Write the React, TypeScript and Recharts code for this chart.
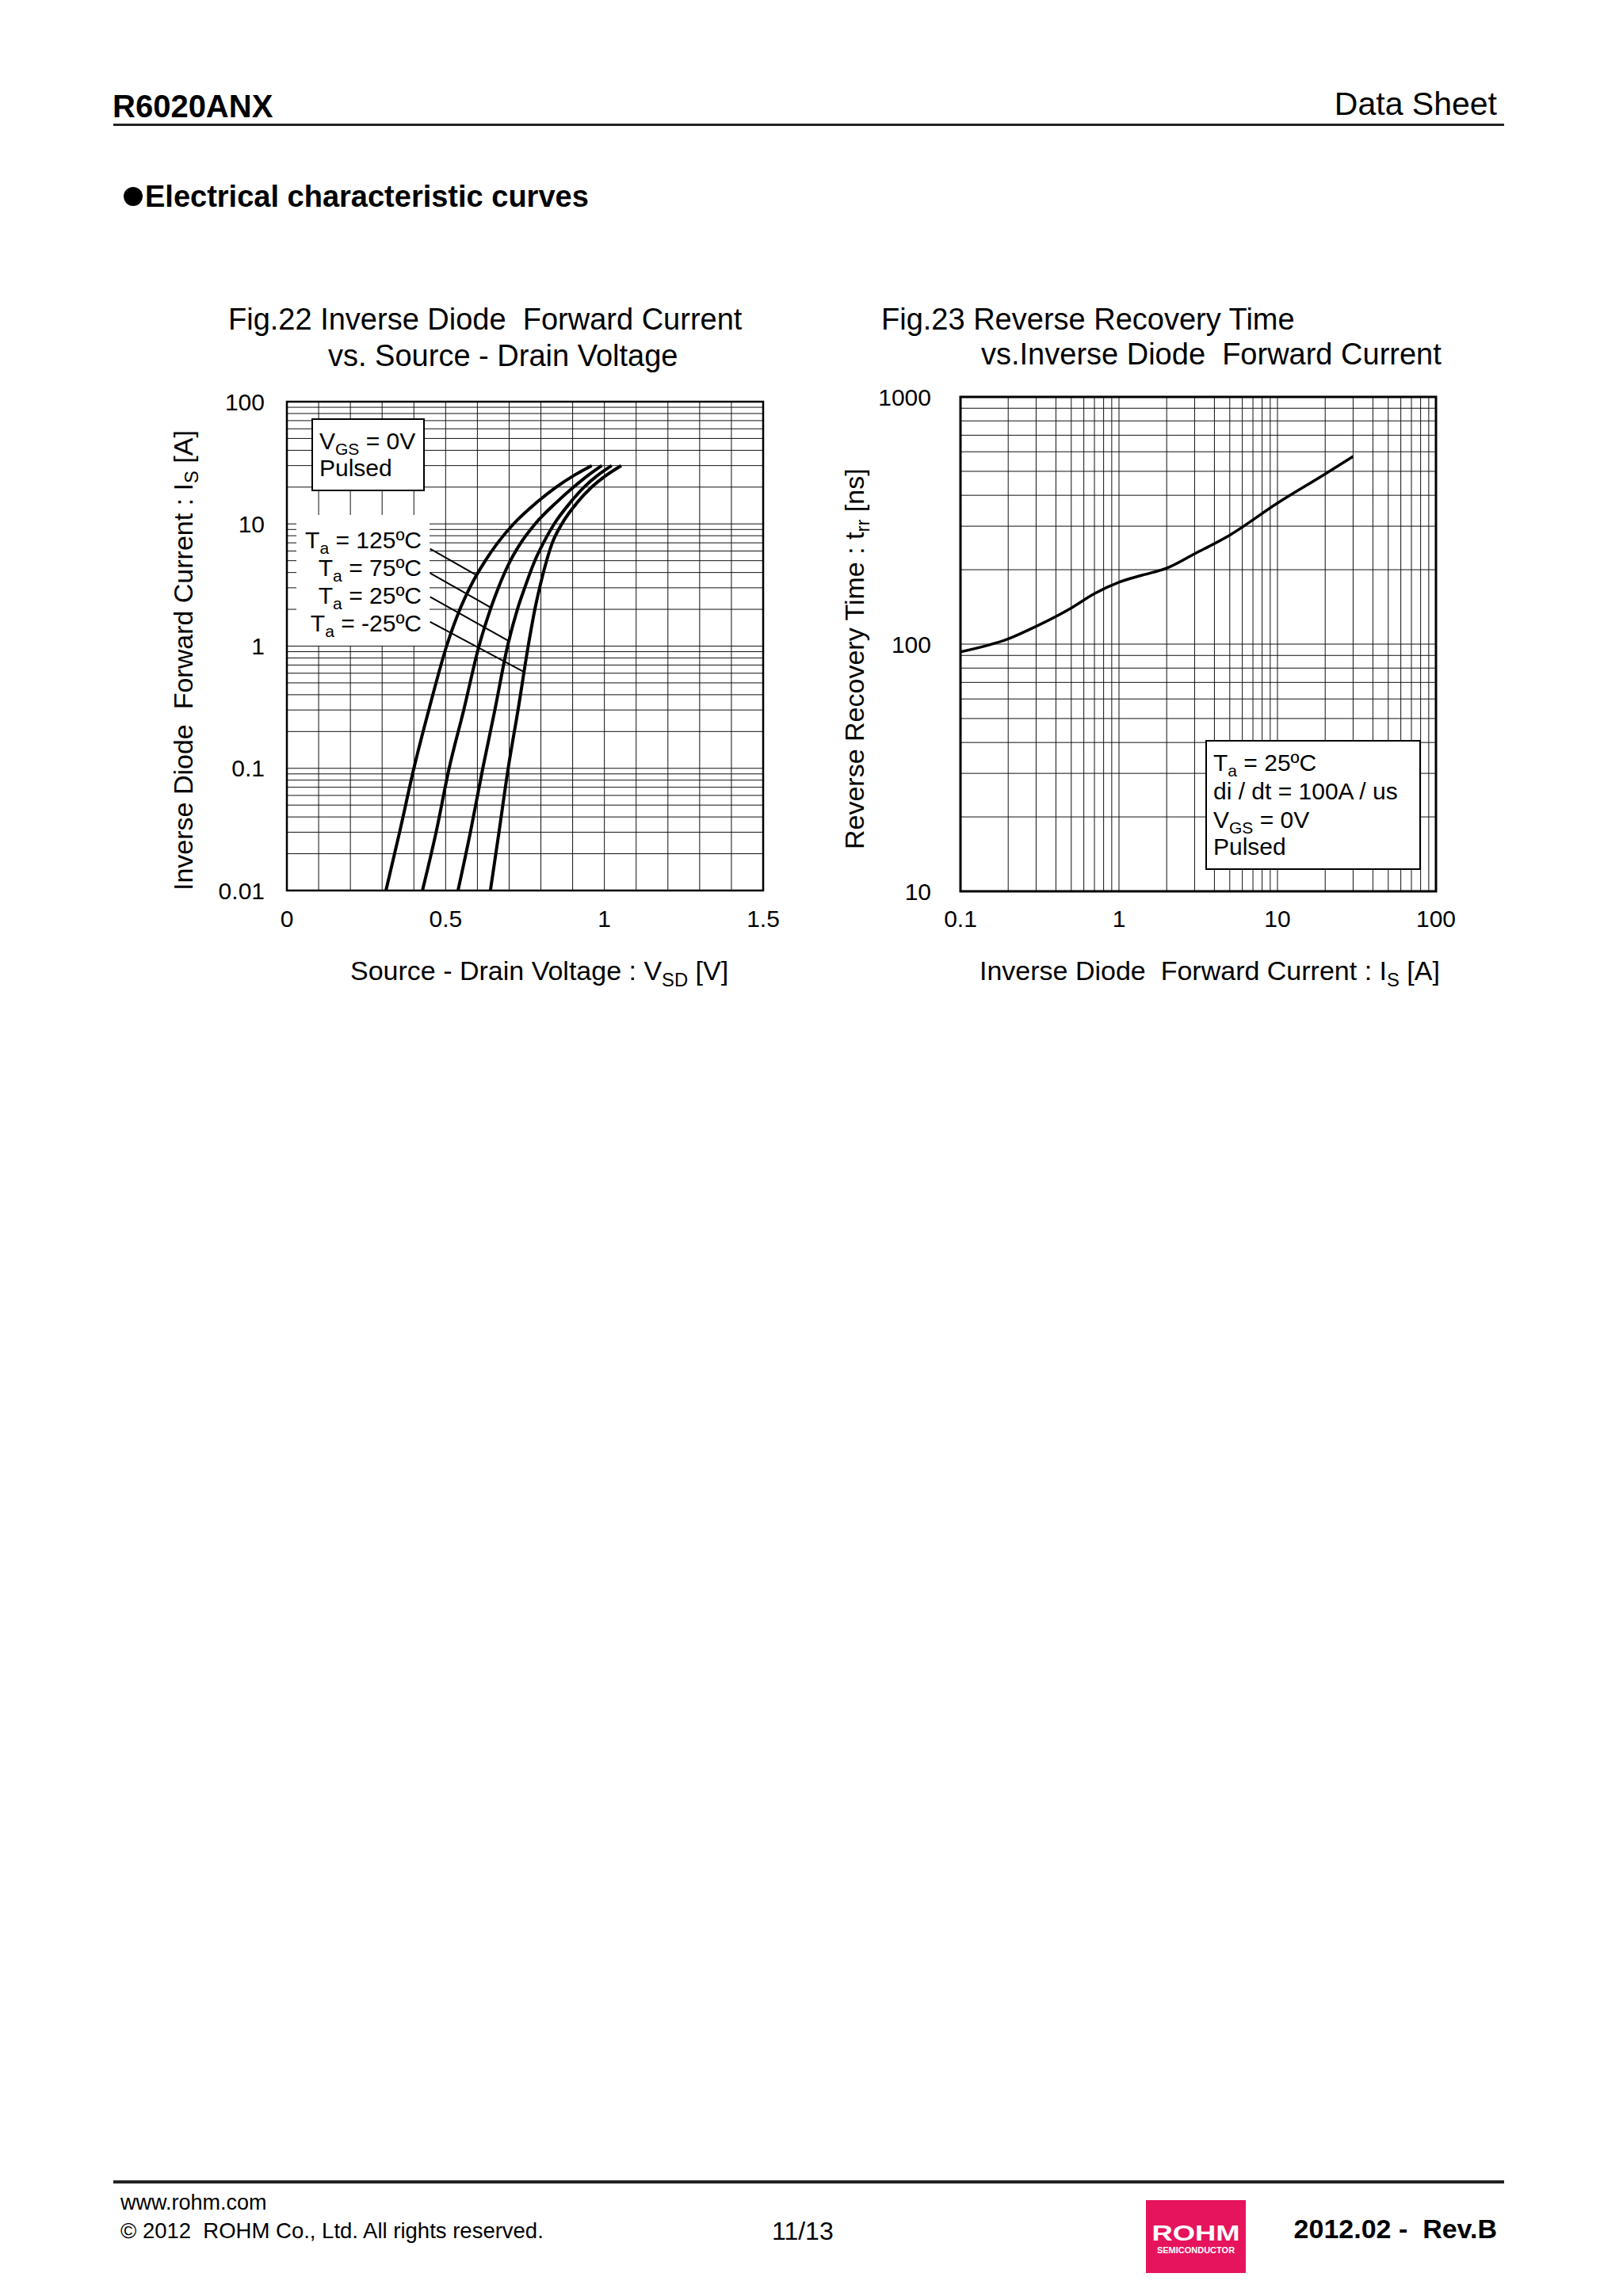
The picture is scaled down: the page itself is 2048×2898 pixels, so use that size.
import React from "react";
import { LineChart, Line, XAxis, YAxis, CartesianGrid, ReferenceArea, ReferenceLine } from "recharts";

const FONT = '"Liberation Sans", Arial, Helvetica, sans-serif';

// Fig.22  Is [A] vs Vsd [V], one Vsd list per ambient temperature
const currents22 = [0.01, 0.03, 0.1, 0.3, 1, 2, 3, 5, 7, 10, 15, 20, 25, 30];
const vsd125 = [0.312, 0.355, 0.4, 0.447, 0.503, 0.545, 0.576, 0.625, 0.664, 0.714, 0.787, 0.848, 0.905, 0.96];
const vsd75 = [0.427, 0.47, 0.511, 0.557, 0.605, 0.641, 0.666, 0.704, 0.737, 0.782, 0.849, 0.903, 0.949, 0.992];
const vsd25 = [0.539, 0.578, 0.617, 0.655, 0.695, 0.726, 0.749, 0.781, 0.808, 0.842, 0.893, 0.936, 0.979, 1.023];
const vsdM25 = [0.641, 0.668, 0.697, 0.728, 0.76, 0.781, 0.796, 0.818, 0.836, 0.866, 0.915, 0.96, 1.006, 1.053];

const tempLabels = ["125", "75", "25", "-25"];
const leaderStart = [
  [0.451, 6.25],
  [0.451, 3.96],
  [0.451, 2.53],
  [0.451, 1.58],
];
const leaderEnd = [
  [0.6, 3.77],
  [0.642, 2.07],
  [0.699, 1.1],
  [0.748, 0.612],
];

const xTicks22 = [0, 0.1, 0.2, 0.3, 0.4, 0.5, 0.6, 0.7, 0.8, 0.9, 1, 1.1, 1.2, 1.3, 1.4, 1.5];
const xLabels22 = ["0", "0.5", "1", "1.5"];
const yTicks22 = [
  0.01, 0.02, 0.03, 0.04, 0.05, 0.06, 0.07, 0.08, 0.09,
  0.1, 0.2, 0.3, 0.4, 0.5, 0.6, 0.7, 0.8, 0.9,
  1, 2, 3, 4, 5, 6, 7, 8, 9,
  10, 20, 30, 40, 50, 60, 70, 80, 90, 100,
];
const yLabels22 = ["0.01", "0.1", "1", "10", "100"];

// Fig.23  trr [ns] vs Is [A]
const currents23 = [0.1, 0.2, 0.3, 0.5, 0.7, 1, 1.4, 2, 3, 5, 10, 20, 30];
const trr23 = [93, 105, 118, 140, 160, 178, 190, 203, 232, 276, 372, 488, 575];

const xTicks23 = [
  0.1, 0.2, 0.3, 0.4, 0.5, 0.6, 0.7, 0.8, 0.9,
  1, 2, 3, 4, 5, 6, 7, 8, 9,
  10, 20, 30, 40, 50, 60, 70, 80, 90, 100,
];
const xLabels23 = ["0.1", "1", "10", "100"];
const yTicks23 = [
  10, 20, 30, 40, 50, 60, 70, 80, 90,
  100, 200, 300, 400, 500, 600, 700, 800, 900, 1000,
];
const yLabels23 = ["10", "100", "1000"];

const series22 = [vsd125, vsd75, vsd25, vsdM25].map((vs) =>
  vs.map((v, k) => ({ v, i: currents22[k] }))
);
const series23 = currents23.map((i, k) => ({ i, t: trr23[k] }));

const onlyLabels = (labels: string[]) => (v: number) => {
  const s = String(+v.toFixed(3));
  return labels.includes(s) ? s : "";
};

const tickStyle = { fill: "#000", fontSize: 30, fontFamily: FONT };

function T({ x, cy, size = 30, bold = false, anchor = "start", children }: any) {
  const st: any = {
    position: "absolute",
    top: cy - 0.4885 * size,
    fontSize: size,
    lineHeight: 1,
    fontWeight: bold ? 700 : 400,
    whiteSpace: "pre",
    fontFamily: FONT,
    color: "#000",
  };
  if (anchor === "end") st.right = 2048 - x;
  else st.left = x;
  return <div style={st}>{children}</div>;
}

const Sub = ({ children }: any) => (
  <span style={{ fontSize: "0.7em", position: "relative", top: "0.3em" }}>{children}</span>
);

function VTitle({ cx, bottom, size = 34, children }: any) {
  return (
    <div
      style={{
        position: "absolute",
        left: cx - 0.4885 * size,
        top: bottom,
        transformOrigin: "0 0",
        transform: "rotate(-90deg)",
        fontSize: size,
        lineHeight: 1,
        whiteSpace: "pre",
        fontFamily: FONT,
      }}
    >
      {children}
    </div>
  );
}

// plot area of Fig.22: x 362..963, y 507..1124
function Fig22() {
  return (
    <div style={{ position: "absolute", left: 242, top: 477 }}>
      <LineChart width={761} height={707} margin={{ top: 30, right: 40, left: 40, bottom: 0 }}>
        <CartesianGrid stroke="#111" strokeWidth={1} />
        <XAxis
          dataKey="v"
          type="number"
          domain={[0, 1.5]}
          ticks={xTicks22}
          interval={0}
          tickFormatter={onlyLabels(xLabels22)}
          axisLine={false}
          tickLine={false}
          tickSize={0}
          tickMargin={25}
          height={60}
          tick={tickStyle}
        />
        <YAxis
          dataKey="i"
          type="number"
          scale="log"
          domain={[0.01, 100]}
          allowDataOverflow
          ticks={yTicks22}
          interval={0}
          tickFormatter={onlyLabels(yLabels22)}
          axisLine={false}
          tickLine={false}
          tickSize={0}
          tickMargin={28}
          width={80}
          tick={tickStyle}
        />
        <ReferenceArea x1={0} x2={1.5} y1={0.01} y2={100} fill="none" stroke="#000" strokeWidth={2.5} />
        {leaderStart.map((p, k) => (
          <ReferenceLine
            key={tempLabels[k]}
            segment={[
              { x: p[0], y: p[1] },
              { x: leaderEnd[k][0], y: leaderEnd[k][1] },
            ]}
            stroke="#000"
            strokeWidth={2}
          />
        ))}
        {series22.map((d, k) => (
          <Line
            key={tempLabels[k]}
            data={d}
            dataKey="i"
            type="monotone"
            stroke="#000"
            strokeWidth={4}
            dot={false}
            isAnimationActive={false}
          />
        ))}
      </LineChart>
    </div>
  );
}

// plot area of Fig.23: x 1212..1812, y 501..1125
function Fig23() {
  return (
    <div style={{ position: "absolute", left: 1082, top: 471 }}>
      <LineChart width={770} height={714} margin={{ top: 30, right: 40, left: 40, bottom: 0 }}>
        <CartesianGrid stroke="#111" strokeWidth={1} />
        <XAxis
          dataKey="i"
          type="number"
          scale="log"
          domain={[0.1, 100]}
          allowDataOverflow
          ticks={xTicks23}
          interval={0}
          tickFormatter={onlyLabels(xLabels23)}
          axisLine={false}
          tickLine={false}
          tickSize={0}
          tickMargin={24}
          height={60}
          tick={tickStyle}
        />
        <YAxis
          dataKey="t"
          type="number"
          scale="log"
          domain={[10, 1000]}
          allowDataOverflow
          ticks={yTicks23}
          interval={0}
          tickFormatter={onlyLabels(yLabels23)}
          axisLine={false}
          tickLine={false}
          tickSize={0}
          tickMargin={37}
          width={90}
          tick={tickStyle}
        />
        <ReferenceArea x1={0.1} x2={100} y1={10} y2={1000} fill="none" stroke="#000" strokeWidth={3} />
        <Line
          data={series23}
          dataKey="t"
          type="monotone"
          stroke="#000"
          strokeWidth={3.5}
          dot={false}
          isAnimationActive={false}
        />
      </LineChart>
    </div>
  );
}

const boxStyle: any = {
  position: "absolute",
  border: "2px solid #000",
  background: "#fff",
  boxSizing: "border-box",
};

export default function App() {
  return (
    <div
      style={{
        position: "absolute",
        left: 0,
        top: 0,
        width: 2048,
        height: 2898,
        background: "#fff",
        fontFamily: FONT,
        overflow: "hidden",
      }}
    >
      {/* header */}
      <T x={142} cy={134} size={40} bold>
        R6020ANX
      </T>
      <T x={1889} cy={131} size={41} anchor="end">
        Data Sheet
      </T>
      <div style={{ position: "absolute", left: 143, top: 156, width: 1755, height: 3, background: "#222" }} />
      <div
        style={{ position: "absolute", left: 156, top: 236, width: 24, height: 24, borderRadius: 12, background: "#000" }}
      />
      <T x={183} cy={248} size={38} bold>
        Electrical characteristic curves
      </T>

      {/* Fig.22 */}
      <T x={288} cy={403} size={38}>
        Fig.22 Inverse Diode  Forward Current
      </T>
      <T x={414} cy={449} size={38}>
        vs. Source - Drain Voltage
      </T>
      <Fig22 />
      <div style={{ ...boxStyle, left: 393, top: 528, width: 143, height: 92 }} />
      <T x={403} cy={557} size={30}>
        V<Sub>GS</Sub> = 0V
      </T>
      <T x={403} cy={591} size={30}>
        Pulsed
      </T>
      <div style={{ position: "absolute", left: 374, top: 650, width: 168, height: 165, background: "#fff" }} />
      {tempLabels.map((t, k) => (
        <T key={t} x={532} cy={682 + k * 35} size={30} anchor="end">
          T<Sub>a</Sub> = {t}ºC
        </T>
      ))}
      <VTitle cx={231} bottom={1124}>
        Inverse Diode  Forward Current : I<Sub>S</Sub> [A]
      </VTitle>
      <T x={442} cy={1225} size={34}>
        Source - Drain Voltage : V<Sub>SD</Sub> [V]
      </T>

      {/* Fig.23 */}
      <T x={1112} cy={403} size={38}>
        Fig.23 Reverse Recovery Time
      </T>
      <T x={1238} cy={447} size={38}>
        vs.Inverse Diode  Forward Current
      </T>
      <Fig23 />
      <div style={{ ...boxStyle, left: 1521, top: 934, width: 272, height: 164 }} />
      <T x={1531} cy={963} size={30}>
        T<Sub>a</Sub> = 25ºC
      </T>
      <T x={1531} cy={999} size={30}>
        di / dt = 100A / us
      </T>
      <T x={1531} cy={1035} size={30}>
        V<Sub>GS</Sub> = 0V
      </T>
      <T x={1531} cy={1069} size={30}>
        Pulsed
      </T>
      <VTitle cx={1078} bottom={1072}>
        Reverse Recovery Time : t<Sub>rr</Sub> [ns]
      </VTitle>
      <T x={1236} cy={1225} size={34}>
        Inverse Diode  Forward Current : I<Sub>S</Sub> [A]
      </T>

      {/* footer */}
      <div style={{ position: "absolute", left: 143, top: 2752, width: 1755, height: 3.5, background: "#222" }} />
      <T x={152} cy={2780} size={27}>
        www.rohm.com
      </T>
      <T x={152} cy={2815} size={27.5}>
        © 2012  ROHM Co., Ltd. All rights reserved.
      </T>
      <T x={974} cy={2816} size={32}>
        11/13
      </T>
      <div
        style={{
          position: "absolute",
          left: 1446,
          top: 2777,
          width: 126,
          height: 92,
          background: "#e5145d",
          color: "#fff",
          textAlign: "center",
          fontFamily: FONT,
          fontWeight: 700,
        }}
      >
        <div style={{ position: "absolute", left: 0, right: 0, top: 28, fontSize: 28, lineHeight: 1, transform: "scaleX(1.3)" }}>
          ROHM
        </div>
        <div style={{ position: "absolute", left: 0, right: 0, top: 58, fontSize: 11, lineHeight: 1 }}>
          SEMICONDUCTOR
        </div>
      </div>
      <T x={1889} cy={2813} size={34} bold anchor="end">
        2012.02 -  Rev.B
      </T>
    </div>
  );
}
